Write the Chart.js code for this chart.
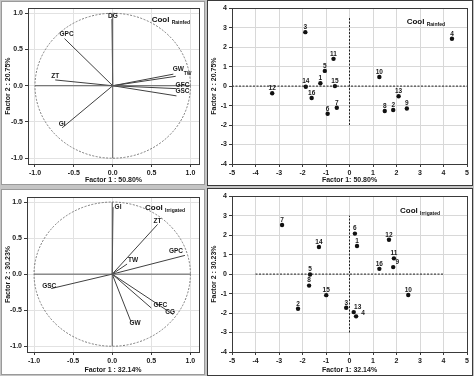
<!DOCTYPE html>
<html>
<head>
<meta charset="utf-8">
<script src="https://cdn.jsdelivr.net/npm/chart.js@4.4.1/dist/chart.umd.min.js"></script>
<style>
    body { margin: 0; width: 474px; height: 376px; background: #c4c4c4; position: relative; overflow: hidden; }
    .panel { position: absolute; background: #fff; box-sizing: border-box; }
    canvas { position: absolute; }
</style>
</head>
<body>
<div class="panel" style="left:1px;top:1px;width:204px;height:184px;border:1px solid #9a9a9a"></div>
<div class="panel" style="left:207px;top:0px;width:266px;height:186px;border:1px solid #3a3a3a"></div>
<div class="panel" style="left:1px;top:189px;width:204px;height:186px;border:1px solid #9a9a9a"></div>
<div class="panel" style="left:207px;top:188px;width:266px;height:188px;border:1px solid #3a3a3a"></div>

<canvas id="chart1" width="201" height="182" style="left:3px;top:2px"></canvas>
<canvas id="chart2" width="262" height="182" style="left:209px;top:2px"></canvas>
<canvas id="chart3" width="201" height="184" style="left:3px;top:190px"></canvas>
<canvas id="chart4" width="262" height="184" style="left:209px;top:190px"></canvas>

<script>
// tick labels
const loadTicks = [-1.0, -0.5, 0.0, 0.5, 1.0];
const scoreXTicks = [-5, -4, -3, -2, -1, 0, 1, 2, 3, 4, 5];
const scoreYTicks = [-4, -3, -2, -1, 0, 1, 2, 3, 4];

// Cool Rainfed - trait loadings (Factor 1, Factor 2)
const rainfedTraits = ['DG', 'GPC', 'ZT', 'GI', 'GW', 'TW', 'GFC', 'GSC'];
const rainfedLoadF1 = [-0.01, -0.62, -0.74, -0.65, 0.78, 0.81, 0.82, 0.82];
const rainfedLoadF2 = [0.92, 0.65, 0.08, -0.58, 0.16, 0.13, -0.04, -0.14];

// Cool Irrigated - trait loadings
const irrigatedTraits = ['GI', 'ZT', 'GPC', 'TW', 'GSC', 'GFC', 'CG', 'GW'];
const irrigatedLoadF1 = [0.01, 0.58, 0.93, 0.19, -0.78, 0.50, 0.78, 0.24];
const irrigatedLoadF2 = [0.93, 0.69, 0.26, 0.14, -0.20, -0.47, -0.56, -0.66];

// genotype scores
const genotypes = ['1', '2', '3', '4', '5', '6', '7', '8', '9', '10', '11', '12', '13', '14', '15', '16'];
const rainfedScoreF1 = [-1.24, 1.86, -1.88, 4.36, -1.05, -0.93, -0.54, 1.50, 2.44, 1.27, -0.68, -3.29, 2.09, -1.86, -0.62, -1.61];
const rainfedScoreF2 = [0.15, -1.23, 2.77, 2.43, 0.78, -1.42, -1.11, -1.28, -1.15, 0.47, 1.40, -0.37, -0.52, -0.03, 0.00, -0.61];
const irrigatedScoreF1 = [0.32, -2.19, -0.14, 0.28, -1.68, 0.23, -2.87, -1.72, 1.86, 2.50, 1.89, 1.68, 0.18, -1.30, -0.99, 1.27];
const irrigatedScoreF2 = [1.44, -1.78, -1.73, -2.17, -0.02, 2.08, 2.52, -0.59, 0.36, -1.07, 0.81, 1.76, -1.95, 1.39, -1.08, 0.27];

// dotted guide lines in the score plots: [x from, x to] at y = 0 and [y from, y to] at x = 0
const rainfedGuideX = [-5, 5];
const rainfedGuideY = [-2, 3.5];
const irrigatedGuideX = [-4, 4];
const irrigatedGuideY = [-3, 3];

const FONT = '"Liberation Sans", Arial, sans-serif';
const tickFont = { family: FONT, size: 7, weight: 'bold' };
const titleFont = { family: FONT, size: 7, weight: 'bold' };

const framePlugin = {
    id: 'frame',
    afterDraw(chart) {
        const { ctx, chartArea: a } = chart;
        ctx.save();
        ctx.strokeStyle = '#3a3a3a';
        ctx.lineWidth = 1;
        ctx.strokeRect(Math.round(a.left) + 0.5, Math.round(a.top) + 0.5, Math.round(a.width), Math.round(a.height));
        ctx.restore();
    }
};

const circlePlugin = {
    id: 'circle',
    beforeDatasetsDraw(chart) {
        const { ctx, scales: { x, y } } = chart;
        const cx = x.getPixelForValue(0), cy = y.getPixelForValue(0);
        ctx.save();
        ctx.strokeStyle = '#7a7a7a';
        ctx.setLineDash([2, 1.5]);
        ctx.lineWidth = 1;
        ctx.beginPath();
        ctx.ellipse(cx, cy, x.getPixelForValue(1) - cx, cy - y.getPixelForValue(1), 0, 0, Math.PI * 2);
        ctx.stroke();
        ctx.restore();
    }
};

// "Cool" + subscript tag, placed from the top-right corner of the plot
function tagPlugin(sub, dxRight, dyTop) {
    return {
        id: 'tag',
        afterDraw(chart) {
            const { ctx, chartArea: a } = chart;
            ctx.save();
            ctx.fillStyle = '#111';
            ctx.textBaseline = 'alphabetic';
            ctx.font = 'bold 8px ' + FONT;
            const w1 = ctx.measureText('Cool ').width;
            ctx.font = 'bold 5px ' + FONT;
            const w2 = ctx.measureText(sub).width;
            const x0 = a.right - dxRight - w1 - w2;
            const y0 = a.top + dyTop;
            ctx.font = 'bold 8px ' + FONT;
            ctx.fillText('Cool ', x0, y0);
            ctx.font = 'bold 5px ' + FONT;
            ctx.fillText(sub, x0 + w1, y0 + 1.5);
            ctx.restore();
        }
    };
}

// text labels next to points / vector tips
function labelPlugin(names, xs, ys, shifts, size, small) {
    return {
        id: 'labels',
        afterDatasetsDraw(chart) {
            const { ctx, scales: { x, y } } = chart;
            ctx.save();
            ctx.fillStyle = '#1a1a1a';
            ctx.textAlign = 'center';
            ctx.textBaseline = 'middle';
            names.forEach((n, i) => {
                const s = shifts[n] || [0, -5];
                ctx.font = ((small && small.includes(n)) ? 'bold 5px ' : 'bold ' + size + 'px ') + FONT;
                ctx.fillText(n, x.getPixelForValue(xs[i]) + s[0], y.getPixelForValue(ys[i]) + s[1]);
            });
            ctx.restore();
        }
    };
}

function axis(min, max, ticks, fmt, title, size, grid) {
    return {
        type: 'linear',
        min: min,
        max: max,
        afterBuildTicks: (s) => { s.ticks = ticks.map(v => ({ value: v })); },
        afterFit: size,
        ticks: { font: tickFont, color: '#1a1a1a', padding: 2, autoSkip: false, maxRotation: 0, callback: fmt },
        grid: { color: grid, tickColor: '#3a3a3a', tickLength: 3 },
        border: { display: false },
        title: { display: true, text: title, font: titleFont, color: '#1a1a1a', padding: { top: 1, bottom: 0 } }
    };
}

function line(points, color, dash) {
    return {
        data: points,
        showLine: true,
        borderColor: color,
        borderWidth: 1,
        borderDash: dash || [],
        pointRadius: 0
    };
}

// loadings circle chart
function loadingChart(el, traits, f1, f2, shifts, small, xTitle, yTitle, sub, tagPos, pad, xh) {
    const vectors = traits.map((t, i) => line([{ x: 0, y: 0 }, { x: f1[i], y: f2[i] }], '#404040'));
    return new Chart(el, {
        type: 'scatter',
        data: {
            datasets: [
                line([{ x: -1, y: 0 }, { x: 1, y: 0 }], '#5a5a5a'),
                line([{ x: 0, y: -1 }, { x: 0, y: 1 }], '#5a5a5a'),
                ...vectors
            ]
        },
        options: {
            responsive: false,
            animation: false,
            events: [],
            layout: { padding: pad },
            scales: {
                x: axis(-1.09, 1.11, loadTicks, v => Number(v).toFixed(1), xTitle, s => { s.height = xh; }, '#e2e2e2'),
                y: axis(-1.08, 1.07, loadTicks, v => Number(v).toFixed(1), yTitle, s => { s.width = pad.yw; }, '#e2e2e2')
            },
            plugins: { legend: { display: false }, tooltip: { enabled: false } }
        },
        plugins: [circlePlugin, framePlugin, labelPlugin(traits, f1, f2, shifts, 6.5, small), tagPlugin(sub, tagPos[0], tagPos[1])]
    });
}

// genotype score chart
function scoreChart(el, f1, f2, gx, gy, shifts, xTitle, yTitle, sub, tagPos, pad, xh) {
    return new Chart(el, {
        type: 'scatter',
        data: {
            datasets: [
                line([{ x: gx[0], y: 0 }, { x: gx[1], y: 0 }], '#222', [2, 1.5]),
                line([{ x: 0, y: gy[0] }, { x: 0, y: gy[1] }], '#222', [2, 1.5]),
                {
                    data: f1.map((v, i) => ({ x: v, y: f2[i] })),
                    pointRadius: 2.2,
                    pointBackgroundColor: '#111',
                    pointBorderWidth: 0
                }
            ]
        },
        options: {
            responsive: false,
            animation: false,
            events: [],
            layout: { padding: pad },
            scales: {
                x: axis(-5, 5, scoreXTicks, v => v, xTitle, s => { s.height = xh; }, '#d8d8d8'),
                y: axis(-4, 4, scoreYTicks, v => v, yTitle, s => { s.width = pad.yw; }, '#d8d8d8')
            },
            plugins: { legend: { display: false }, tooltip: { enabled: false } }
        },
        plugins: [framePlugin, labelPlugin(genotypes, f1, f2, shifts, 6.5), tagPlugin(sub, tagPos[0], tagPos[1])]
    });
}

// CHART - 1 : Cool Rainfed loadings
const chart1 = loadingChart(document.querySelector('#chart1'),
    rainfedTraits, rainfedLoadF1, rainfedLoadF2,
    { DG: [1, -3], GPC: [2, -4], ZT: [0, -4], GI: [0, -4], GW: [5, -5], TW: [12, -3], GFC: [6, -3], GSC: [6, -5] }, ['TW'],
    'Factor 1 : 50.80%', 'Factor 2 : 20.75%', 'Rainfed', [9, 14],
    { left: 0, right: 5, top: 5, bottom: 0, yw: 25 }, 20);

// CHART - 2 : Cool Rainfed scores
const chart2 = scoreChart(document.querySelector('#chart2'),
    rainfedScoreF1, rainfedScoreF2, rainfedGuideX, rainfedGuideY, {},
    'Factor 1: 50.80%', 'Factor 2 : 20.75%', 'Rainfed', [22, 16],
    { left: 0, right: 2, top: 4, bottom: 0, yw: 23 }, 20);

// CHART - 3 : Cool Irrigated loadings
const chart3 = loadingChart(document.querySelector('#chart3'),
    irrigatedTraits, irrigatedLoadF1, irrigatedLoadF2,
    { GI: [5, 0], ZT: [0, -3], GPC: [-9, -4], TW: [6, -4], GSC: [-2, -2], GFC: [9, -3], CG: [-3, -2], GW: [4, 1] }, [],
    'Factor 1 : 32.14%', 'Factor 2 : 30.23%', 'Irrigated', [14, 13],
    { left: 0, right: 5, top: 7, bottom: 0, yw: 24 }, 22);

// CHART - 4 : Cool Irrigated scores
const chart4 = scoreChart(document.querySelector('#chart4'),
    irrigatedScoreF1, irrigatedScoreF2, irrigatedGuideX, irrigatedGuideY,
    { '9': [4, -5], '4': [7, -3], '13': [4, -5] },
    'Factor 1: 32.14%', 'Factor 2 : 30.23%', 'Irrigated', [27, 17],
    { left: 0, right: 3, top: 5, bottom: 0, yw: 23 }, 22);
</script>
</body>
</html>
